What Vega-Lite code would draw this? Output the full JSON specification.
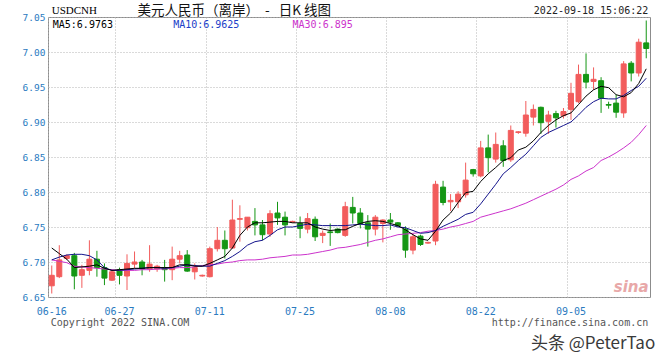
{
  "$schema": "https://vega.github.io/schema/vega-lite/v6.json",
  "width": 602,
  "height": 280,
  "autosize": "none",
  "padding": {"left": 48, "top": 17, "right": 10, "bottom": 63},
  "background": "white",
  "config": {
    "view": {"stroke": "#8c8c8c", "strokeWidth": 1},
    "axis": {"labelFont": "DejaVu Sans Mono", "labelFontSize": 10, "labelColor": "#2b7bbf", "ticks": false, "domain": false, "grid": true, "gridColor": "#b4b4b4", "gridDash": [1, 2], "gridWidth": 1, "title": null, "labelOverlap": false},
    "axisY": {"labelOverlap": false, "labelFontSize": 9.5, "labelPadding": 3, "labelFlush": false, "tickCount": 20}
  },
  "data": {"values": [
    {"d":"06-16","o":6.666,"h":6.695,"l":6.655,"c":6.681,"m5":6.720,"m10":6.703,"m30":6.703},
    {"d":"06-17","o":6.679,"h":6.724,"l":6.677,"c":6.703,"m5":6.712,"m10":6.707,"m30":6.701},
    {"d":"06-18","o":6.705,"h":6.711,"l":6.703,"c":6.709,"m5":6.704,"m10":6.710,"m30":6.699},
    {"d":"06-20","o":6.709,"h":6.713,"l":6.661,"c":6.680,"m5":6.692,"m10":6.711,"m30":6.694},
    {"d":"06-21","o":6.681,"h":6.696,"l":6.663,"c":6.689,"m5":6.693,"m10":6.711,"m30":6.693},
    {"d":"06-22","o":6.688,"h":6.731,"l":6.681,"c":6.704,"m5":6.694,"m10":6.709,"m30":6.692},
    {"d":"06-23","o":6.704,"h":6.716,"l":6.679,"c":6.692,"m5":6.696,"m10":6.703,"m30":6.691},
    {"d":"06-24","o":6.692,"h":6.698,"l":6.667,"c":6.677,"m5":6.691,"m10":6.692,"m30":6.690},
    {"d":"06-25","o":6.674,"h":6.689,"l":6.673,"c":6.686,"m5":6.688,"m10":6.688,"m30":6.689},
    {"d":"06-27","o":6.689,"h":6.692,"l":6.668,"c":6.681,"m5":6.689,"m10":6.688,"m30":6.688},
    {"d":"06-28","o":6.680,"h":6.711,"l":6.660,"c":6.698,"m5":6.690,"m10":6.689,"m30":6.688},
    {"d":"06-29","o":6.697,"h":6.715,"l":6.691,"c":6.700,"m5":6.691,"m10":6.690,"m30":6.688},
    {"d":"06-30","o":6.700,"h":6.703,"l":6.681,"c":6.690,"m5":6.691,"m10":6.691,"m30":6.689},
    {"d":"07-01","o":6.690,"h":6.724,"l":6.686,"c":6.697,"m5":6.692,"m10":6.692,"m30":6.689},
    {"d":"07-02","o":6.690,"h":6.696,"l":6.686,"c":6.694,"m5":6.692,"m10":6.692,"m30":6.690},
    {"d":"07-04","o":6.692,"h":6.703,"l":6.672,"c":6.689,"m5":6.692,"m10":6.691,"m30":6.690},
    {"d":"07-05","o":6.689,"h":6.722,"l":6.674,"c":6.704,"m5":6.692,"m10":6.692,"m30":6.691},
    {"d":"07-06","o":6.704,"h":6.716,"l":6.698,"c":6.709,"m5":6.696,"m10":6.694,"m30":6.692},
    {"d":"07-07","o":6.710,"h":6.717,"l":6.686,"c":6.687,"m5":6.696,"m10":6.696,"m30":6.692},
    {"d":"07-08","o":6.686,"h":6.698,"l":6.675,"c":6.692,"m5":6.694,"m10":6.695,"m30":6.693},
    {"d":"07-09","o":6.680,"h":6.682,"l":6.679,"c":6.681,"m5":6.694,"m10":6.694,"m30":6.695},
    {"d":"07-11","o":6.679,"h":6.722,"l":6.678,"c":6.719,"m5":6.698,"m10":6.694,"m30":6.696},
    {"d":"07-12","o":6.719,"h":6.750,"l":6.715,"c":6.731,"m5":6.703,"m10":6.698,"m30":6.697},
    {"d":"07-13","o":6.731,"h":6.745,"l":6.705,"c":6.719,"m5":6.708,"m10":6.702,"m30":6.699},
    {"d":"07-14","o":6.720,"h":6.789,"l":6.719,"c":6.760,"m5":6.720,"m10":6.708,"m30":6.700},
    {"d":"07-15","o":6.761,"h":6.781,"l":6.729,"c":6.762,"m5":6.738,"m10":6.715,"m30":6.702},
    {"d":"07-16","o":6.749,"h":6.764,"l":6.745,"c":6.764,"m5":6.750,"m10":6.724,"m30":6.703},
    {"d":"07-18","o":6.758,"h":6.777,"l":6.738,"c":6.753,"m5":6.756,"m10":6.729,"m30":6.703},
    {"d":"07-19","o":6.753,"h":6.760,"l":6.731,"c":6.739,"m5":6.756,"m10":6.731,"m30":6.704},
    {"d":"07-20","o":6.740,"h":6.774,"l":6.736,"c":6.769,"m5":6.757,"m10":6.738,"m30":6.706},
    {"d":"07-21","o":6.770,"h":6.786,"l":6.753,"c":6.763,"m5":6.758,"m10":6.746,"m30":6.707},
    {"d":"07-22","o":6.764,"h":6.772,"l":6.738,"c":6.753,"m5":6.758,"m10":6.750,"m30":6.708},
    {"d":"07-23","o":6.757,"h":6.759,"l":6.756,"c":6.758,"m5":6.756,"m10":6.750,"m30":6.710},
    {"d":"07-25","o":6.755,"h":6.765,"l":6.734,"c":6.748,"m5":6.756,"m10":6.752,"m30":6.710},
    {"d":"07-26","o":6.747,"h":6.770,"l":6.741,"c":6.762,"m5":6.756,"m10":6.754,"m30":6.711},
    {"d":"07-27","o":6.761,"h":6.765,"l":6.730,"c":6.736,"m5":6.750,"m10":6.753,"m30":6.713},
    {"d":"07-28","o":6.738,"h":6.745,"l":6.727,"c":6.741,"m5":6.747,"m10":6.752,"m30":6.715},
    {"d":"07-29","o":6.743,"h":6.755,"l":6.723,"c":6.742,"m5":6.745,"m10":6.752,"m30":6.717},
    {"d":"07-30","o":6.747,"h":6.748,"l":6.741,"c":6.742,"m5":6.746,"m10":6.752,"m30":6.720},
    {"d":"08-01","o":6.738,"h":6.786,"l":6.736,"c":6.779,"m5":6.746,"m10":6.752,"m30":6.721},
    {"d":"08-02","o":6.778,"h":6.793,"l":6.755,"c":6.770,"m5":6.751,"m10":6.753,"m30":6.723},
    {"d":"08-03","o":6.770,"h":6.777,"l":6.748,"c":6.755,"m5":6.755,"m10":6.754,"m30":6.725},
    {"d":"08-04","o":6.756,"h":6.767,"l":6.722,"c":6.747,"m5":6.758,"m10":6.753,"m30":6.728},
    {"d":"08-05","o":6.747,"h":6.767,"l":6.738,"c":6.764,"m5":6.759,"m10":6.752,"m30":6.731},
    {"d":"08-06","o":6.755,"h":6.761,"l":6.728,"c":6.760,"m5":6.758,"m10":6.752,"m30":6.733},
    {"d":"08-08","o":6.760,"h":6.770,"l":6.746,"c":6.757,"m5":6.755,"m10":6.753,"m30":6.736},
    {"d":"08-09","o":6.756,"h":6.757,"l":6.750,"c":6.752,"m5":6.752,"m10":6.750,"m30":6.739},
    {"d":"08-10","o":6.747,"h":6.751,"l":6.706,"c":6.717,"m5":6.746,"m10":6.749,"m30":6.740},
    {"d":"08-11","o":6.717,"h":6.740,"l":6.711,"c":6.736,"m5":6.739,"m10":6.745,"m30":6.741},
    {"d":"08-12","o":6.737,"h":6.739,"l":6.723,"c":6.725,"m5":6.733,"m10":6.741,"m30":6.742},
    {"d":"08-13","o":6.727,"h":6.729,"l":6.726,"c":6.728,"m5":6.731,"m10":6.742,"m30":6.744},
    {"d":"08-15","o":6.730,"h":6.816,"l":6.724,"c":6.811,"m5":6.744,"m10":6.745,"m30":6.745},
    {"d":"08-16","o":6.807,"h":6.816,"l":6.781,"c":6.785,"m5":6.760,"m10":6.751,"m30":6.747},
    {"d":"08-17","o":6.786,"h":6.797,"l":6.773,"c":6.788,"m5":6.770,"m10":6.756,"m30":6.750},
    {"d":"08-18","o":6.786,"h":6.801,"l":6.777,"c":6.797,"m5":6.785,"m10":6.761,"m30":6.752},
    {"d":"08-19","o":6.796,"h":6.842,"l":6.792,"c":6.817,"m5":6.799,"m10":6.768,"m30":6.755},
    {"d":"08-20","o":6.832,"h":6.833,"l":6.822,"c":6.826,"m5":6.801,"m10":6.771,"m30":6.758},
    {"d":"08-22","o":6.823,"h":6.873,"l":6.821,"c":6.863,"m5":6.815,"m10":6.783,"m30":6.764},
    {"d":"08-23","o":6.863,"h":6.882,"l":6.828,"c":6.849,"m5":6.826,"m10":6.797,"m30":6.767},
    {"d":"08-24","o":6.847,"h":6.885,"l":6.842,"c":6.868,"m5":6.835,"m10":6.811,"m30":6.770},
    {"d":"08-25","o":6.866,"h":6.874,"l":6.836,"c":6.845,"m5":6.845,"m10":6.826,"m30":6.773},
    {"d":"08-26","o":6.846,"h":6.895,"l":6.843,"c":6.888,"m5":6.849,"m10":6.835,"m30":6.776},
    {"d":"08-27","o":6.885,"h":6.887,"l":6.883,"c":6.886,"m5":6.860,"m10":6.845,"m30":6.780},
    {"d":"08-29","o":6.884,"h":6.930,"l":6.879,"c":6.910,"m5":6.864,"m10":6.854,"m30":6.784},
    {"d":"08-30","o":6.907,"h":6.925,"l":6.895,"c":6.918,"m5":6.873,"m10":6.866,"m30":6.789},
    {"d":"08-31","o":6.921,"h":6.922,"l":6.883,"c":6.899,"m5":6.885,"m10":6.878,"m30":6.794},
    {"d":"09-01","o":6.901,"h":6.916,"l":6.883,"c":6.910,"m5":6.895,"m10":6.885,"m30":6.799},
    {"d":"09-02","o":6.912,"h":6.916,"l":6.892,"c":6.906,"m5":6.903,"m10":6.890,"m30":6.804},
    {"d":"09-03","o":6.909,"h":6.920,"l":6.905,"c":6.915,"m5":6.909,"m10":6.895,"m30":6.810},
    {"d":"09-05","o":6.918,"h":6.956,"l":6.903,"c":6.941,"m5":6.913,"m10":6.900,"m30":6.818},
    {"d":"09-06","o":6.929,"h":6.982,"l":6.927,"c":6.968,"m5":6.925,"m10":6.910,"m30":6.823},
    {"d":"09-07","o":6.968,"h":6.998,"l":6.948,"c":6.957,"m5":6.937,"m10":6.921,"m30":6.830},
    {"d":"09-08","o":6.958,"h":6.978,"l":6.946,"c":6.961,"m5":6.946,"m10":6.929,"m30":6.835},
    {"d":"09-09","o":6.959,"h":6.964,"l":6.913,"c":6.934,"m5":6.951,"m10":6.934,"m30":6.845},
    {"d":"09-10","o":6.925,"h":6.929,"l":6.919,"c":6.924,"m5":6.949,"m10":6.933,"m30":6.850},
    {"d":"09-12","o":6.927,"h":6.939,"l":6.906,"c":6.914,"m5":6.939,"m10":6.933,"m30":6.856},
    {"d":"09-13","o":6.913,"h":6.987,"l":6.906,"c":6.983,"m5":6.936,"m10":6.938,"m30":6.863},
    {"d":"09-14","o":6.984,"h":6.987,"l":6.958,"c":6.970,"m5":6.942,"m10":6.945,"m30":6.871},
    {"d":"09-15","o":6.970,"h":7.019,"l":6.965,"c":7.014,"m5":6.955,"m10":6.951,"m30":6.882},
    {"d":"09-16","o":7.013,"h":7.045,"l":6.991,"c":7.005,"m5":6.976,"m10":6.9625,"m30":6.895}
  ]},
  "encoding": {
    "x": {"field": "d", "type": "ordinal",
      "scale": {"paddingInner": 0, "paddingOuter": 0},
      "axis": {"values": ["06-16","06-27","07-11","07-25","08-08","08-22","09-05"], "labelAngle": 0, "bandPosition": 0, "labelPadding": 14, "labelBaseline": "middle", "labelOverlap": false, "tickCount": 20}}
  },
  "layer": [
    {
      "mark": {"type": "rule", "strokeWidth": 1},
      "encoding": {
        "y": {"field": "l", "type": "quantitative", "scale": {"domain": [6.65, 7.05], "nice": false, "zero": false},
          "axis": {"values": [6.65, 6.7, 6.75, 6.8, 6.85, 6.9, 6.95, 7.0, 7.05], "tickCount": 20, "format": ".2f", "labelOverlap": false, "labelFlush": false, "labelFontSize": 9.5, "labelPadding": 3}},
        "y2": {"field": "h"},
        "color": {"condition": {"test": "datum.c >= datum.o", "value": "#f25c5c"}, "value": "#149614"}
      }
    },
    {
      "mark": {"type": "bar", "width": 5, "strokeWidth": 1},
      "encoding": {
        "y": {"field": "o", "type": "quantitative", "axis": {"values": [6.65, 6.7, 6.75, 6.8, 6.85, 6.9, 6.95, 7.0, 7.05], "tickCount": 20, "format": ".2f", "labelOverlap": false, "labelFlush": false, "labelFontSize": 9.5, "labelPadding": 3}},
        "y2": {"field": "c"},
        "fill": {"condition": {"test": "datum.c >= datum.o", "value": "#f25c5c"}, "value": "#149614"},
        "stroke": {"condition": {"test": "datum.c >= datum.o", "value": "#f25c5c"}, "value": "#149614"}
      }
    },
    {
      "mark": {"type": "line", "color": "#cc33cc", "strokeWidth": 1},
      "encoding": {"y": {"field": "m30", "type": "quantitative"}}
    },
    {
      "mark": {"type": "line", "color": "#14148c", "strokeWidth": 1},
      "encoding": {"y": {"field": "m10", "type": "quantitative"}}
    },
    {
      "mark": {"type": "line", "color": "#000000", "strokeWidth": 1},
      "encoding": {"y": {"field": "m5", "type": "quantitative"}}
    },
    {
      "data": {"values": [{"t": "USDCNH"}]},
      "mark": {"type": "text", "align": "left", "baseline": "middle", "font": "Liberation Serif", "fontSize": 11, "color": "#000000"},
      "encoding": {"x": {"datum": "06-16"}, "y": {"datum": 7.0585}, "text": {"field": "t"}}
    },
    {
      "data": {"values": [{"t": "美元人民币（离岸）\u00a0\u00a0-\u00a0\u00a0\u00a0日K\u00a0线图"}]},
      "mark": {"type": "text", "align": "left", "baseline": "middle", "font": "Noto Sans CJK SC", "fontSize": 13.5, "color": "#111111", "dx": 3},
      "encoding": {"x": {"datum": "06-29"}, "y": {"datum": 7.0585}, "text": {"field": "t"}}
    },
    {
      "data": {"values": [{"t": "2022-09-18 15:06:22"}]},
      "mark": {"type": "text", "align": "right", "baseline": "middle", "font": "DejaVu Sans Mono", "fontSize": 10, "color": "#222222", "dx": 2},
      "encoding": {"x": {"datum": "09-16"}, "y": {"datum": 7.0585}, "text": {"field": "t"}}
    },
    {
      "data": {"values": [{"t": "MA5:6.9763"}]},
      "mark": {"type": "text", "align": "left", "baseline": "middle", "font": "DejaVu Sans Mono", "fontSize": 10, "color": "#000000", "dx": 1},
      "encoding": {"x": {"datum": "06-16"}, "y": {"datum": 7.0385}, "text": {"field": "t"}}
    },
    {
      "data": {"values": [{"t": "MA10:6.9625"}]},
      "mark": {"type": "text", "align": "left", "baseline": "middle", "font": "DejaVu Sans Mono", "fontSize": 10, "color": "#2040c8", "dx": 1},
      "encoding": {"x": {"datum": "07-05"}, "y": {"datum": 7.0385}, "text": {"field": "t"}}
    },
    {
      "data": {"values": [{"t": "MA30:6.895"}]},
      "mark": {"type": "text", "align": "left", "baseline": "middle", "font": "DejaVu Sans Mono", "fontSize": 10, "color": "#cc33cc", "dx": 0},
      "encoding": {"x": {"datum": "07-23"}, "y": {"datum": 7.0385}, "text": {"field": "t"}}
    },
    {
      "data": {"values": [{"t": "Copyright 2022 SINA.COM"}]},
      "mark": {"type": "text", "align": "left", "baseline": "middle", "font": "DejaVu Sans Mono", "fontSize": 10, "color": "#555555", "dx": -1},
      "encoding": {"x": {"datum": "06-16"}, "y": {"datum": 6.6129}, "text": {"field": "t"}}
    },
    {
      "data": {"values": [{"t": "http://finance.sina.com.cn"}]},
      "mark": {"type": "text", "align": "right", "baseline": "middle", "font": "DejaVu Sans Mono", "fontSize": 10, "color": "#555555", "dx": 2},
      "encoding": {"x": {"datum": "09-16"}, "y": {"datum": 6.6129}, "text": {"field": "t"}}
    },
    {
      "data": {"values": [{"t": "头条 @PeterTao"}]},
      "mark": {"type": "text", "align": "right", "baseline": "middle", "font": "Noto Sans CJK SC", "fontSize": 17, "color": "#3a3a3a", "dx": 9},
      "encoding": {"x": {"datum": "09-16"}, "y": {"datum": 6.5828}, "text": {"field": "t"}}
    },
    {
      "data": {"values": [{"t": "sina"}]},
      "mark": {"type": "text", "align": "center", "baseline": "middle", "font": "DejaVu Sans", "fontSize": 15, "fontStyle": "italic", "fontWeight": "bold", "color": "#e8a8a8"},
      "encoding": {"x": {"datum": "09-14"}, "y": {"datum": 6.664}, "text": {"field": "t"}}
    }
  ]
}
